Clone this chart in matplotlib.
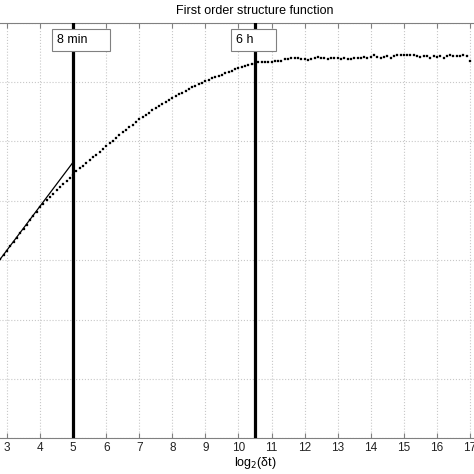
import numpy as np
import matplotlib
matplotlib.use("Agg")
import matplotlib.pyplot as plt

plt.rcParams['font.family'] = ['Liberation Sans', 'DejaVu Sans']

# log2 of the lag, one dot every 0.1
log2_dt = np.round(np.arange(27, 171) / 10, 1)
sf1 = [2.95, 3.02, 3.09, 3.16, 3.24, 3.31, 3.38, 3.46, 3.53, 3.60,
       3.67, 3.74, 3.81, 3.89, 3.95, 4.01, 4.07, 4.12, 4.18, 4.23,
       4.29, 4.34, 4.39, 4.44, 4.50, 4.55, 4.59, 4.64, 4.68, 4.73,
       4.77, 4.82, 4.87, 4.92, 4.97, 5.01, 5.06, 5.10, 5.15, 5.19,
       5.24, 5.28, 5.33, 5.37, 5.41, 5.45, 5.48, 5.52, 5.56, 5.59,
       5.63, 5.66, 5.70, 5.73, 5.76, 5.79, 5.82, 5.85, 5.88, 5.91,
       5.93, 5.96, 5.98, 6.01, 6.03, 6.06, 6.08, 6.10, 6.12, 6.15,
       6.17, 6.19, 6.21, 6.23, 6.25, 6.27, 6.28, 6.30, 6.31, 6.33,
       6.34, 6.34, 6.34, 6.34, 6.35, 6.35, 6.36, 6.38, 6.39, 6.40,
       6.40, 6.40, 6.39, 6.38, 6.37, 6.38, 6.40, 6.42, 6.40, 6.40,
       6.39, 6.40, 6.40, 6.40, 6.39, 6.40, 6.39, 6.38, 6.40, 6.41,
       6.40, 6.42, 6.41, 6.42, 6.45, 6.42, 6.41, 6.42, 6.43, 6.41,
       6.44, 6.45, 6.45, 6.46, 6.45, 6.46, 6.45, 6.44, 6.42, 6.43,
       6.44, 6.41, 6.43, 6.42, 6.43, 6.41, 6.43, 6.45, 6.43, 6.44,
       6.44, 6.45, 6.44, 6.36]

# straight fit at small lags
fit_x = [2.0, 5.0]
fit_y = [2.43, 4.65]

# scale markers
mark_x = [5.0, 10.5]
mark_labels = ['8 min\u00a0\u00a0\u00a0\u00a0\u00a0', '6 h\u00a0\u00a0\u00a0\u00a0\u00a0']
label_x = [4.51, 9.92]

xtick_vals = list(range(1, 21))
xtick_labels = [str(v) if 3 <= v <= 17 else '' for v in xtick_vals]

fig = plt.figure(figsize=(4.74, 4.74), dpi=100)
# axes run past the left/right edge, like the cropped original
ax = fig.add_axes([-0.1248, 0.0749, 1.3256, 0.8776])

ax.plot(log2_dt, sf1, 's', ms=1.5, color='k', mec='k', mew=0.2)
ax.plot(fit_x, fit_y, '-', color='k', lw=0.9)
for xm in mark_x:
    ax.axvline(xm, color='k', lw=2.3, zorder=3)
for xl, lab in zip(label_x, mark_labels):
    ax.text(xl, 6.71, lab, fontsize=9, va='center', ha='left', zorder=5,
            bbox=dict(boxstyle='square,pad=0.4', fc='white', ec='#808080', lw=0.8))

ax.set_xlim(1, 20)
ax.set_ylim(0, 7)
ax.set_xticks(xtick_vals)
ax.set_xticklabels(xtick_labels)
ax.set_yticks(range(0, 8))
ax.grid(True, color='#c8c8c8', linestyle=':', lw=0.8)
ax.set_axisbelow(True)
for s in ax.spines.values():
    s.set_color('#808080')
    s.set_linewidth(0.8)
ax.tick_params(direction='in', top=True, right=True, length=3.5, color='#808080',
               labelsize=8.5, labelcolor='#222222', pad=2.5)
ax.set_yticklabels([])
ax.set_title('First order structure function', fontsize=9, pad=6)
ax.set_xlabel('log$_2$(δt)', fontsize=9, labelpad=1)

fig.savefig('out.png', dpi=100)
